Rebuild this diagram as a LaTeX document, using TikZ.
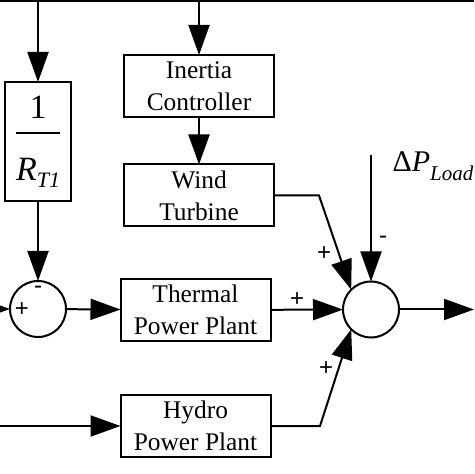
\documentclass[tikz,border=0pt]{standalone}
\usepackage{fontspec}
\setmainfont{Liberation Serif}
\newfontfamily\sgnfont{Liberation Sans}
\usetikzlibrary{arrows.meta}
\begin{document}
\begin{tikzpicture}[x=.5pt,y=-.5pt,line width=1pt,>={Triangle[length=15pt,width=10.5pt]},
 blk/.style={draw,minimum width=75pt,minimum height=31pt,align=center,inner sep=0pt,outer sep=0pt,font=\fontsize{12.7}{16}\selectfont},
 sum/.style={draw,circle,minimum size=28pt,inner sep=0pt,outer sep=0pt},
 sgn/.style={inner sep=0pt,font=\sgnfont\fontsize{12}{12}\selectfont}]
\useasboundingbox (0,0) rectangle (474,474);
\coordinate (top) at(0,1);
\node[blk](ic) at(199,86){Inertia\\Controller};
\node[blk](wt) at(199,195.5){Wind\\Turbine};
\node[blk](tp) at(195.5,310){Thermal\\Power Plant};
\node[blk](hp) at(195.5,426){Hydro\\Power Plant};
\node[draw,minimum width=33pt,minimum height=59.5pt,inner sep=0pt,outer sep=0pt](r) at(38,141.5)
 {\fontsize{17}{20}\selectfont$\displaystyle{\mbox{1}\above1pt\hbox to 22pt{\hss\rule{0pt}{20pt}\textit{R}\raisebox{-3.5pt}{\fontsize{11}{11}\selectfont\textit{T1}}\hss}}$};
\node[sum](s1) at(38,309){};
\node[sum](s2) at(371,309.5){};
\node[font=\fontsize{15}{18}\selectfont](pl) at(433,166){Δ\textit{P}\raisebox{-4.5pt}{\fontsize{10.5}{11}\selectfont\textit{Load}}};
\coordinate (in1) at(-40,309);
\coordinate (in2) at(-40,426);
\coordinate (ld) at(371,155);
\coordinate (out) at(474,309.5);
\coordinate (wk) at(319,195.5);
\coordinate (hk) at(320,426);
% lines
\draw (top) -- (474,1);
\draw[->] (r.north|-top) -- (r);
\draw[->] (ic.north|-top) -- (ic);
\draw[->] (ic) -- (wt);
\draw[->] (r) -- (s1);
\draw[->] (in1) -- (s1);
\draw[->] (s1) -- (tp);
\draw[->] (in2) -- (hp);
\draw[->] (tp) -- (s2);
\draw[->] (wt) -- (wk) -- (s2.135);
\draw[->] (hp) -- (hk) -- (s2.225);
\draw[->] (ld) -- (s2);
\draw[->] (s2) -- (out);
% signs
\foreach \p/\s[count=\i] in {{(22,310)}/+,{(38,290)}/-,{(297,300)}/+,{(324,254)}/+,{(326,369)}/+,{(383,240)}/-}
 \node[sgn](sg\i) at\p{\s};
\end{tikzpicture}
\end{document}
